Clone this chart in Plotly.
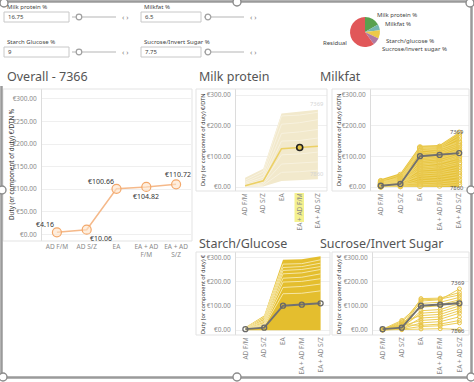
import plotly.graph_objects as go

W, H = 474, 382

# ---------------- data ----------------
categories = ["AD F/M", "AD S/Z", "EA", "EA + AD F/M", "EA + AD S/Z"]
overall_tick_labels = ["AD F/M", "AD S/Z", "EA", "EA + AD<br>F/M", "EA + AD<br>S/Z"]
overall_values = [4.16, 10.06, 100.66, 104.82, 110.72]

param_names = ["Milk protein %", "Milkfat %", "Starch Glucose %", "Sucrose/Invert Sugar %"]
param_values = ["16.75", "6.5", "9", "7.75"]

pie_labels = ["Milk protein %", "Milkfat %", "Starch/glucose %", "Sucrose/invert sugar %", "Residual"]
pie_values = [16.75, 6.5, 9, 7.75, 60]
pie_colors = ["#59a14f", "#76b7b2", "#edc948", "#b07aa1", "#e15759"]

y_small_ticks = [0, 100, 200, 300]
y_overall_ticks = [0, 50, 100, 150, 200, 250, 300]

# Milk protein (faded panel)
mp_upper = [30, 60, 240, 245, 252]
mp_lower = [0, 2, 20, 22, 25]
mp_lines = [
    [22, 52, 232, 235, 244],
    [16, 42, 205, 210, 220],
    [12, 32, 175, 180, 188],
    [8, 24, 150, 152, 160],
    [5, 15, 105, 108, 114],
    [3, 10, 75, 78, 82],
    [2, 6, 48, 50, 55],
]
mp_main = [4, 20, 125, 129, 133]

# Milkfat
mf_upper = [25, 45, 135, 137, 180]
mf_lower = [0, 0, 0, 0, 0]
mf_lines = [
    [2, 5, 130, 132, 178], [20, 40, 128, 130, 170], [15, 30, 125, 127, 160],
    [10, 25, 120, 122, 150], [5, 20, 118, 125, 145], [12, 35, 110, 118, 140],
    [8, 15, 105, 112, 135], [3, 12, 100, 108, 128], [18, 28, 95, 100, 122],
    [6, 18, 90, 96, 118], [4, 10, 85, 92, 112], [9, 22, 80, 86, 105],
    [2, 8, 75, 80, 100], [14, 26, 70, 78, 95], [7, 14, 65, 70, 88],
    [3, 9, 60, 66, 80], [11, 20, 55, 60, 75], [5, 12, 48, 52, 66],
    [2, 6, 42, 46, 58], [8, 16, 35, 40, 50], [4, 8, 28, 32, 42],
    [1, 5, 20, 24, 34], [6, 10, 14, 16, 24], [2, 4, 8, 10, 16], [1, 2, 3, 4, 8],
]

# Starch/Glucose
st_upper = [12, 60, 290, 292, 305]
st_lower = [0, 0, 0, 0, 0]
st_lines = [
    [10, 55, 272, 274, 290], [8, 48, 258, 262, 276],
    [7, 40, 246, 250, 262], [6, 35, 232, 236, 250],
    [5, 28, 214, 218, 232], [4, 24, 198, 201, 212],
    [4, 20, 176, 180, 190], [3, 16, 150, 152, 162],
]

# Sucrose/Invert Sugar
su_lines = [
    [2, 10, 120, 125, 170], [3, 15, 130, 132, 155], [2, 30, 125, 128, 145],
    [4, 40, 110, 115, 135], [1, 20, 100, 105, 125], [2, 25, 95, 100, 118],
    [3, 8, 80, 85, 110], [1, 12, 70, 75, 100], [2, 35, 60, 65, 90],
    [1, 5, 50, 55, 80], [2, 18, 40, 45, 70], [1, 6, 30, 35, 55],
    [3, 22, 20, 25, 40], [1, 4, 15, 18, 30], [1, 2, 5, 6, 3],
]

band_labels = {
    "mp": ["7369", "7860"],
    "mf": ["7369", "7860"],
    "su": ["7369", "7866"],
}

# ---------------- helpers ----------------
def fx(p):
    return p / W

def fy(p):
    return 1 - p / H

xi = list(range(len(categories)))
FONT = "Noto Sans"
fig = go.Figure()

panels = {
    "ov": dict(ax="", xd=(42, 191), yd=(89, 241), yr=[-15, 322]),
    "mp": dict(ax="2", xd=(236, 327), yd=(89, 191), yr=[-13, 320]),
    "mf": dict(ax="3", xd=(371, 469), yd=(89, 191), yr=[-13, 320]),
    "st": dict(ax="4", xd=(236, 330), yd=(252, 335), yr=[-20, 322]),
    "su": dict(ax="5", xd=(373, 469), yd=(252, 335), yr=[-20, 322]),
}

def xa(k):
    return "x" + panels[k]["ax"]

def ya(k):
    return "y" + panels[k]["ax"]

def band(k, upper, lower, color):
    fig.add_trace(go.Scatter(
        x=xi + xi[::-1], y=upper + lower[::-1], fill="toself", fillcolor=color,
        line=dict(width=0), mode="lines", hoverinfo="skip", showlegend=False,
        xaxis=xa(k), yaxis=ya(k)))

def lines(k, data, color, width, msize=0, mcolor=None):
    for row in data:
        fig.add_trace(go.Scatter(
            x=xi, y=row, mode="lines+markers" if msize else "lines",
            line=dict(color=color, width=width),
            marker=dict(size=msize, color="rgba(0,0,0,0)",
                        line=dict(color=mcolor or color, width=1)),
            hoverinfo="skip", showlegend=False, xaxis=xa(k), yaxis=ya(k)))

def mean_line(k):
    fig.add_trace(go.Scatter(
        x=xi, y=overall_values, mode="lines+markers",
        line=dict(color="#717171", width=1.9),
        marker=dict(size=5, color="rgba(0,0,0,0)", line=dict(color="#686868", width=1.3)),
        hoverinfo="skip", showlegend=False, xaxis=xa(k), yaxis=ya(k)))

# ---------------- overall ----------------
fig.add_trace(go.Scatter(
    x=xi, y=overall_values, mode="lines+markers",
    line=dict(color="#f5b98a", width=1.5),
    marker=dict(size=9, color="rgba(253,226,200,0.6)", line=dict(color="#f3a86b", width=1.2)),
    hoverinfo="skip", showlegend=False, xaxis="x", yaxis="y"))

# ---------------- milk protein ----------------
band("mp", mp_upper, mp_lower, "#f2e9cc")
lines("mp", mp_lines, "#f8f2df", 1)
fig.add_trace(go.Scatter(
    x=xi, y=mp_main, mode="lines", line=dict(color="#ecd064", width=1.6),
    hoverinfo="skip", showlegend=False, xaxis="x2", yaxis="y2"))
fig.add_trace(go.Scatter(
    x=[xi[3]], y=[mp_main[3]], mode="markers",
    marker=dict(size=6, color="#e8c547", line=dict(color="#222", width=1.6)),
    hoverinfo="skip", showlegend=False, xaxis="x2", yaxis="y2"))

# ---------------- milkfat ----------------
band("mf", mf_upper, mf_lower, "#e6c23a")
lines("mf", mf_lines, "#f0d772", 0.8, msize=5, mcolor="#e9c84c")
mean_line("mf")

# ---------------- starch ----------------
band("st", st_upper, st_lower, "#e4be2e")
lines("st", st_lines, "#f6e6a4", 1)
mean_line("st")

# ---------------- sucrose ----------------
lines("su", su_lines, "#eccd55", 1, msize=4, mcolor="#e8c447")
mean_line("su")

# ---------------- pie ----------------
fig.add_trace(go.Pie(
    labels=pie_labels, values=pie_values, sort=False, direction="clockwise",
    marker=dict(colors=pie_colors, line=dict(width=0)), textinfo="none",
    hoverinfo="skip", showlegend=False,
    domain=dict(x=[fx(350), fx(380)], y=[fy(47), fy(17)])))

# ---------------- axes ----------------
layout = dict(
    width=W, height=H, margin=dict(l=0, r=0, t=0, b=0),
    paper_bgcolor="white", plot_bgcolor="white",
    font=dict(family=FONT, color="#555"),
)
for k, p in panels.items():
    a = p["ax"]
    small = k != "ov"
    yt = y_small_ticks if small else y_overall_ticks
    layout["xaxis" + a] = dict(
        domain=[fx(p["xd"][0]), fx(p["xd"][1])], anchor="y" + a,
        range=[-0.5, len(categories) - 0.5], tickvals=xi,
        ticktext=categories if small else overall_tick_labels,
        tickangle=-90 if small else 0,
        tickfont=dict(size=6.5, color="#8a8a8a", family=FONT),
        showgrid=False, zeroline=False, showline=False, ticks="",
        fixedrange=True)
    layout["yaxis" + a] = dict(
        domain=[fy(p["yd"][1]), fy(p["yd"][0])], anchor="x" + a,
        range=p["yr"], tickvals=yt, ticktext=["€{:.2f}".format(v) for v in yt],
        tickfont=dict(size=6.5, color="#8a8a8a", family=FONT),
        showgrid=True, gridcolor="#efefef", gridwidth=1, zeroline=False,
        showline=True, linecolor="#dcdcdc", linewidth=1, ticks="",
        ticklabelstandoff=3, fixedrange=True)
fig.update_layout(**layout)

# ---------------- shapes ----------------
shapes = []
def rect(x0, y0, x1, y1, color="#e3e3e3", fill=None, width=1, layer="above"):
    shapes.append(dict(type="rect", xref="paper", yref="paper",
                       x0=fx(x0), x1=fx(x1), y0=fy(y1), y1=fy(y0),
                       line=dict(color=color, width=width),
                       fillcolor=fill or "rgba(0,0,0,0)", layer=layer))

def hline(x0, x1, y, color, width):
    shapes.append(dict(type="line", xref="paper", yref="paper",
                       x0=fx(x0), x1=fx(x1), y0=fy(y), y1=fy(y),
                       line=dict(color=color, width=width)))

def vline(x, y0, y1, color, width):
    shapes.append(dict(type="line", xref="paper", yref="paper",
                       x0=fx(x), x1=fx(x), y0=fy(y0), y1=fy(y1),
                       line=dict(color=color, width=width)))

def circle(cx, cy, r, color="#8c8c8c", fill="white", width=1.2):
    shapes.append(dict(type="circle", xref="paper", yref="paper",
                       x0=fx(cx - r), x1=fx(cx + r), y0=fy(cy + r), y1=fy(cy - r),
                       line=dict(color=color, width=width), fillcolor=fill))

rect(3, 89, 192, 241)
rect(196, 89, 327, 191)
rect(332, 89, 469, 191)
rect(196, 252, 330, 335)
rect(332, 252, 469, 335)

rect(294.5, 193, 304, 222, color="rgba(0,0,0,0)", fill="#f4f18f", layer="below")

for i, (nm, val) in enumerate(zip(param_names, param_values)):
    col, row = i % 2, i // 2
    bx = 4 if col == 0 else 141
    by = 12 if row == 0 else 47
    rect(bx, by, bx + 65 if col == 0 else bx + 60, by + 10, color="#c8c8c8")
    sx0 = bx + 68 if col == 0 else bx + 63
    sx1 = sx0 + 44 if col == 0 else sx0 + 40
    hline(sx0, sx1, by + 5, "#b5b5b5", 1)
    circle(sx0 + 7 if col == 0 else sx0 + 4, by + 5, 2.8, color="#a0a0a0")

hline(0, 474, 1.5, "#9a9a9a", 2.5)
hline(0, 474, 377.5, "#9a9a9a", 2.5)
vline(471.5, 1, 378, "#9a9a9a", 2.5)
vline(1.5, 86, 378, "#9a9a9a", 2.5)
for (cx, cy) in [(4, 3), (237, 2), (470, 3), (471, 190), (2, 190), (3, 377), (237, 377), (471, 377)]:
    circle(cx, cy, 4, color="#8c8c8c", width=1.4)

fig.update_layout(shapes=shapes)

# ---------------- annotations ----------------
ann = []
def text(x, y, s, size=6.5, color="#444", xanchor="left", angle=0, yanchor="middle"):
    ann.append(dict(x=fx(x), y=fy(y), xref="paper", yref="paper", text=s,
                    showarrow=False, xanchor=xanchor, yanchor=yanchor, textangle=angle,
                    font=dict(size=size, color=color, family=FONT)))

# overall data labels (placed in data coordinates)
label_anchor = [("right", "bottom", -1, 1), ("left", "top", 1, -2), ("right", "bottom", -1, 1),
                ("center", "top", 0, -3), ("center", "bottom", 2, 3)]
for i, v in enumerate(overall_values):
    xan, yan, xs, ys = label_anchor[i]
    ann.append(dict(x=xi[i], y=v, xref="x", yref="y", text="€{:.2f}".format(v),
                    showarrow=False, xanchor=xan, yanchor=yan, xshift=xs, yshift=ys,
                    font=dict(size=7, color="#333", family=FONT)))

for i, (nm, val) in enumerate(zip(param_names, param_values)):
    col, row = i % 2, i // 2
    bx = 4 if col == 0 else 141
    by = 12 if row == 0 else 47
    text(bx + 1, by - 5, nm, size=6, color="#444")
    text(bx + 2, by + 5, val, size=6, color="#444")
    ax_ = 125 if col == 0 else 253
    text(ax_, by + 5, "‹ ›", size=7.5, color="#777", xanchor="center")

text(375, 15, pie_labels[0], size=6, color="#444")
text(383, 24, pie_labels[1], size=6, color="#444")
text(384, 41, pie_labels[2], size=6, color="#444")
text(380, 49, pie_labels[3], size=6, color="#444")
text(349, 43, pie_labels[4], size=6, color="#444", xanchor="right")

text(5, 77, "Overall - 7366", size=12.5, color="#555")
text(197, 77, "Milk protein", size=12.5, color="#555")
text(318, 77, "Milkfat", size=12.5, color="#555")
text(197, 243, "Starch/Glucose", size=12.5, color="#555")
text(318, 243, "Sucrose/Invert Sugar", size=12.5, color="#555")

text(11, 165, "Duty (or component of duty) €/DTN %", size=6.3, color="#333", xanchor="center", angle=-90)
text(203, 140, "Duty (or component of duty) €/DTN", size=5.6, color="#333", xanchor="center", angle=-90)
text(339, 140, "Duty (or component of duty) €/DTN", size=5.6, color="#333", xanchor="center", angle=-90)
text(203, 294, "Duty (or component of duty) €", size=5.6, color="#333", xanchor="center", angle=-90)
text(339, 294, "Duty (or component of duty) €", size=5.6, color="#333", xanchor="center", angle=-90)

text(326, 104, band_labels["mp"][0], size=5.8, color="#d5d5d5", xanchor="right")
text(326, 174, band_labels["mp"][1], size=5.8, color="#d5d5d5", xanchor="right")
text(466, 132, band_labels["mf"][0], size=5.8, color="#555", xanchor="right")
text(466, 188, band_labels["mf"][1], size=5.8, color="#555", xanchor="right")
text(467, 283, band_labels["su"][0], size=5.8, color="#555", xanchor="right")
text(467, 331, band_labels["su"][1], size=5.8, color="#555", xanchor="right")

fig.update_layout(annotations=ann)

fig.write_html("out.html", config={"displayModeBar": False, "staticPlot": True},
               post_script="document.body.style.margin='0';document.body.style.overflow='hidden';")
